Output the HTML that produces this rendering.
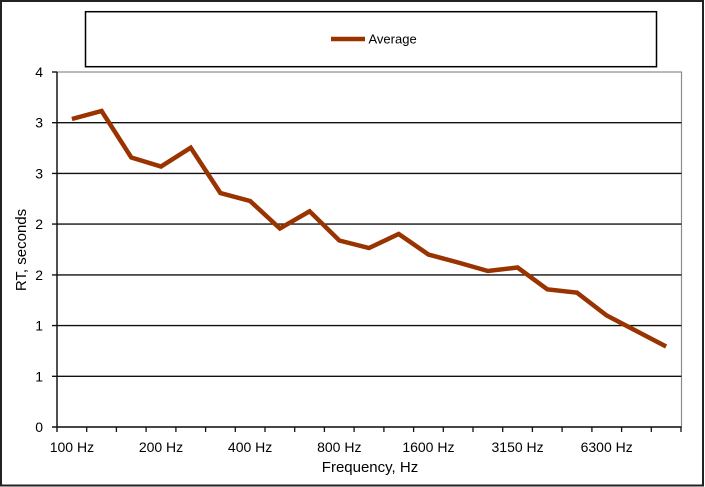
<!DOCTYPE html>
<html><head><meta charset="utf-8"><style>
html,body{margin:0;padding:0;background:#fff;}
svg{display:block;}
text{font-family:"Liberation Sans",Arial,sans-serif;fill:#000;}
</style></head><body>
<svg width="705" height="487" viewBox="0 0 705 487" xmlns="http://www.w3.org/2000/svg">
<rect x="0" y="0" width="705" height="487" fill="#fff"/>
<rect x="1" y="1" width="702" height="484.5" fill="none" stroke="#222" stroke-width="2"/>
<!-- legend -->
<rect x="85.5" y="11.7" width="571" height="55" fill="#fff" stroke="#000" stroke-width="1.5"/>
<line x1="331" y1="39" x2="365" y2="39" stroke="#993300" stroke-width="4.5"/>
<text x="368.5" y="43.6" font-size="13">Average</text>
<!-- plot area -->
<rect x="57" y="72" width="624.5" height="355" fill="#fff" stroke="#8c8c8c" stroke-width="1.2"/>
<g stroke="#111" stroke-width="1.4">
<line x1="52" y1="376.3" x2="681.5" y2="376.3"/>
<line x1="52" y1="325.6" x2="681.5" y2="325.6"/>
<line x1="52" y1="274.9" x2="681.5" y2="274.9"/>
<line x1="52" y1="224.1" x2="681.5" y2="224.1"/>
<line x1="52" y1="173.4" x2="681.5" y2="173.4"/>
<line x1="52" y1="122.7" x2="681.5" y2="122.7"/>
<line x1="52" y1="72" x2="57" y2="72"/>
<line x1="52" y1="427" x2="681.5" y2="427"/>
<line x1="57" y1="72" x2="57" y2="432"/>
</g>
<g stroke="#111" stroke-width="1.3">
<line x1="86.7" y1="427" x2="86.7" y2="432"/>
<line x1="116.4" y1="427" x2="116.4" y2="432"/>
<line x1="146.1" y1="427" x2="146.1" y2="432"/>
<line x1="175.9" y1="427" x2="175.9" y2="432"/>
<line x1="205.6" y1="427" x2="205.6" y2="432"/>
<line x1="235.3" y1="427" x2="235.3" y2="432"/>
<line x1="265" y1="427" x2="265" y2="432"/>
<line x1="294.7" y1="427" x2="294.7" y2="432"/>
<line x1="324.4" y1="427" x2="324.4" y2="432"/>
<line x1="354.1" y1="427" x2="354.1" y2="432"/>
<line x1="383.9" y1="427" x2="383.9" y2="432"/>
<line x1="413.6" y1="427" x2="413.6" y2="432"/>
<line x1="443.3" y1="427" x2="443.3" y2="432"/>
<line x1="473" y1="427" x2="473" y2="432"/>
<line x1="502.7" y1="427" x2="502.7" y2="432"/>
<line x1="532.4" y1="427" x2="532.4" y2="432"/>
<line x1="562.1" y1="427" x2="562.1" y2="432"/>
<line x1="591.9" y1="427" x2="591.9" y2="432"/>
<line x1="621.6" y1="427" x2="621.6" y2="432"/>
<line x1="651.3" y1="427" x2="651.3" y2="432"/>
<line x1="681" y1="427" x2="681" y2="432"/>
</g>
<!-- y labels -->
<g font-size="14" text-anchor="end">
<text x="43" y="77">4</text>
<text x="43" y="127.7">3</text>
<text x="43" y="178.4">3</text>
<text x="43" y="229.1">2</text>
<text x="43" y="279.9">2</text>
<text x="43" y="330.6">1</text>
<text x="43" y="381.3">1</text>
<text x="43" y="432">0</text>
</g>
<!-- x labels -->
<g font-size="14" text-anchor="middle">
<text x="71.9" y="452">100 Hz</text>
<text x="161" y="452">200 Hz</text>
<text x="250.1" y="452">400 Hz</text>
<text x="339.3" y="452">800 Hz</text>
<text x="428.4" y="452">1600 Hz</text>
<text x="517.6" y="452">3150 Hz</text>
<text x="606.7" y="452">6300 Hz</text>
</g>
<text x="370" y="472" font-size="15" text-anchor="middle">Frequency, Hz</text>
<text transform="translate(26,250) rotate(-90)" font-size="15" text-anchor="middle">RT, seconds</text>
<!-- series -->
<polyline fill="none" stroke="#993300" stroke-width="4.5" stroke-linejoin="miter" stroke-linecap="butt"
points="71.9,119 101.6,111 131.3,157.5 161,166.5 190.7,147.7 220.4,193 250.1,201 279.9,228.5 309.6,211.3 339.3,240.5 369,248 398.7,234 428.4,254.5 458.1,262.5 487.9,271 517.6,267.5 547.3,289.3 577,292.7 606.7,315.5 636.4,331 666.1,346.5"/>
</svg>
</body></html>
